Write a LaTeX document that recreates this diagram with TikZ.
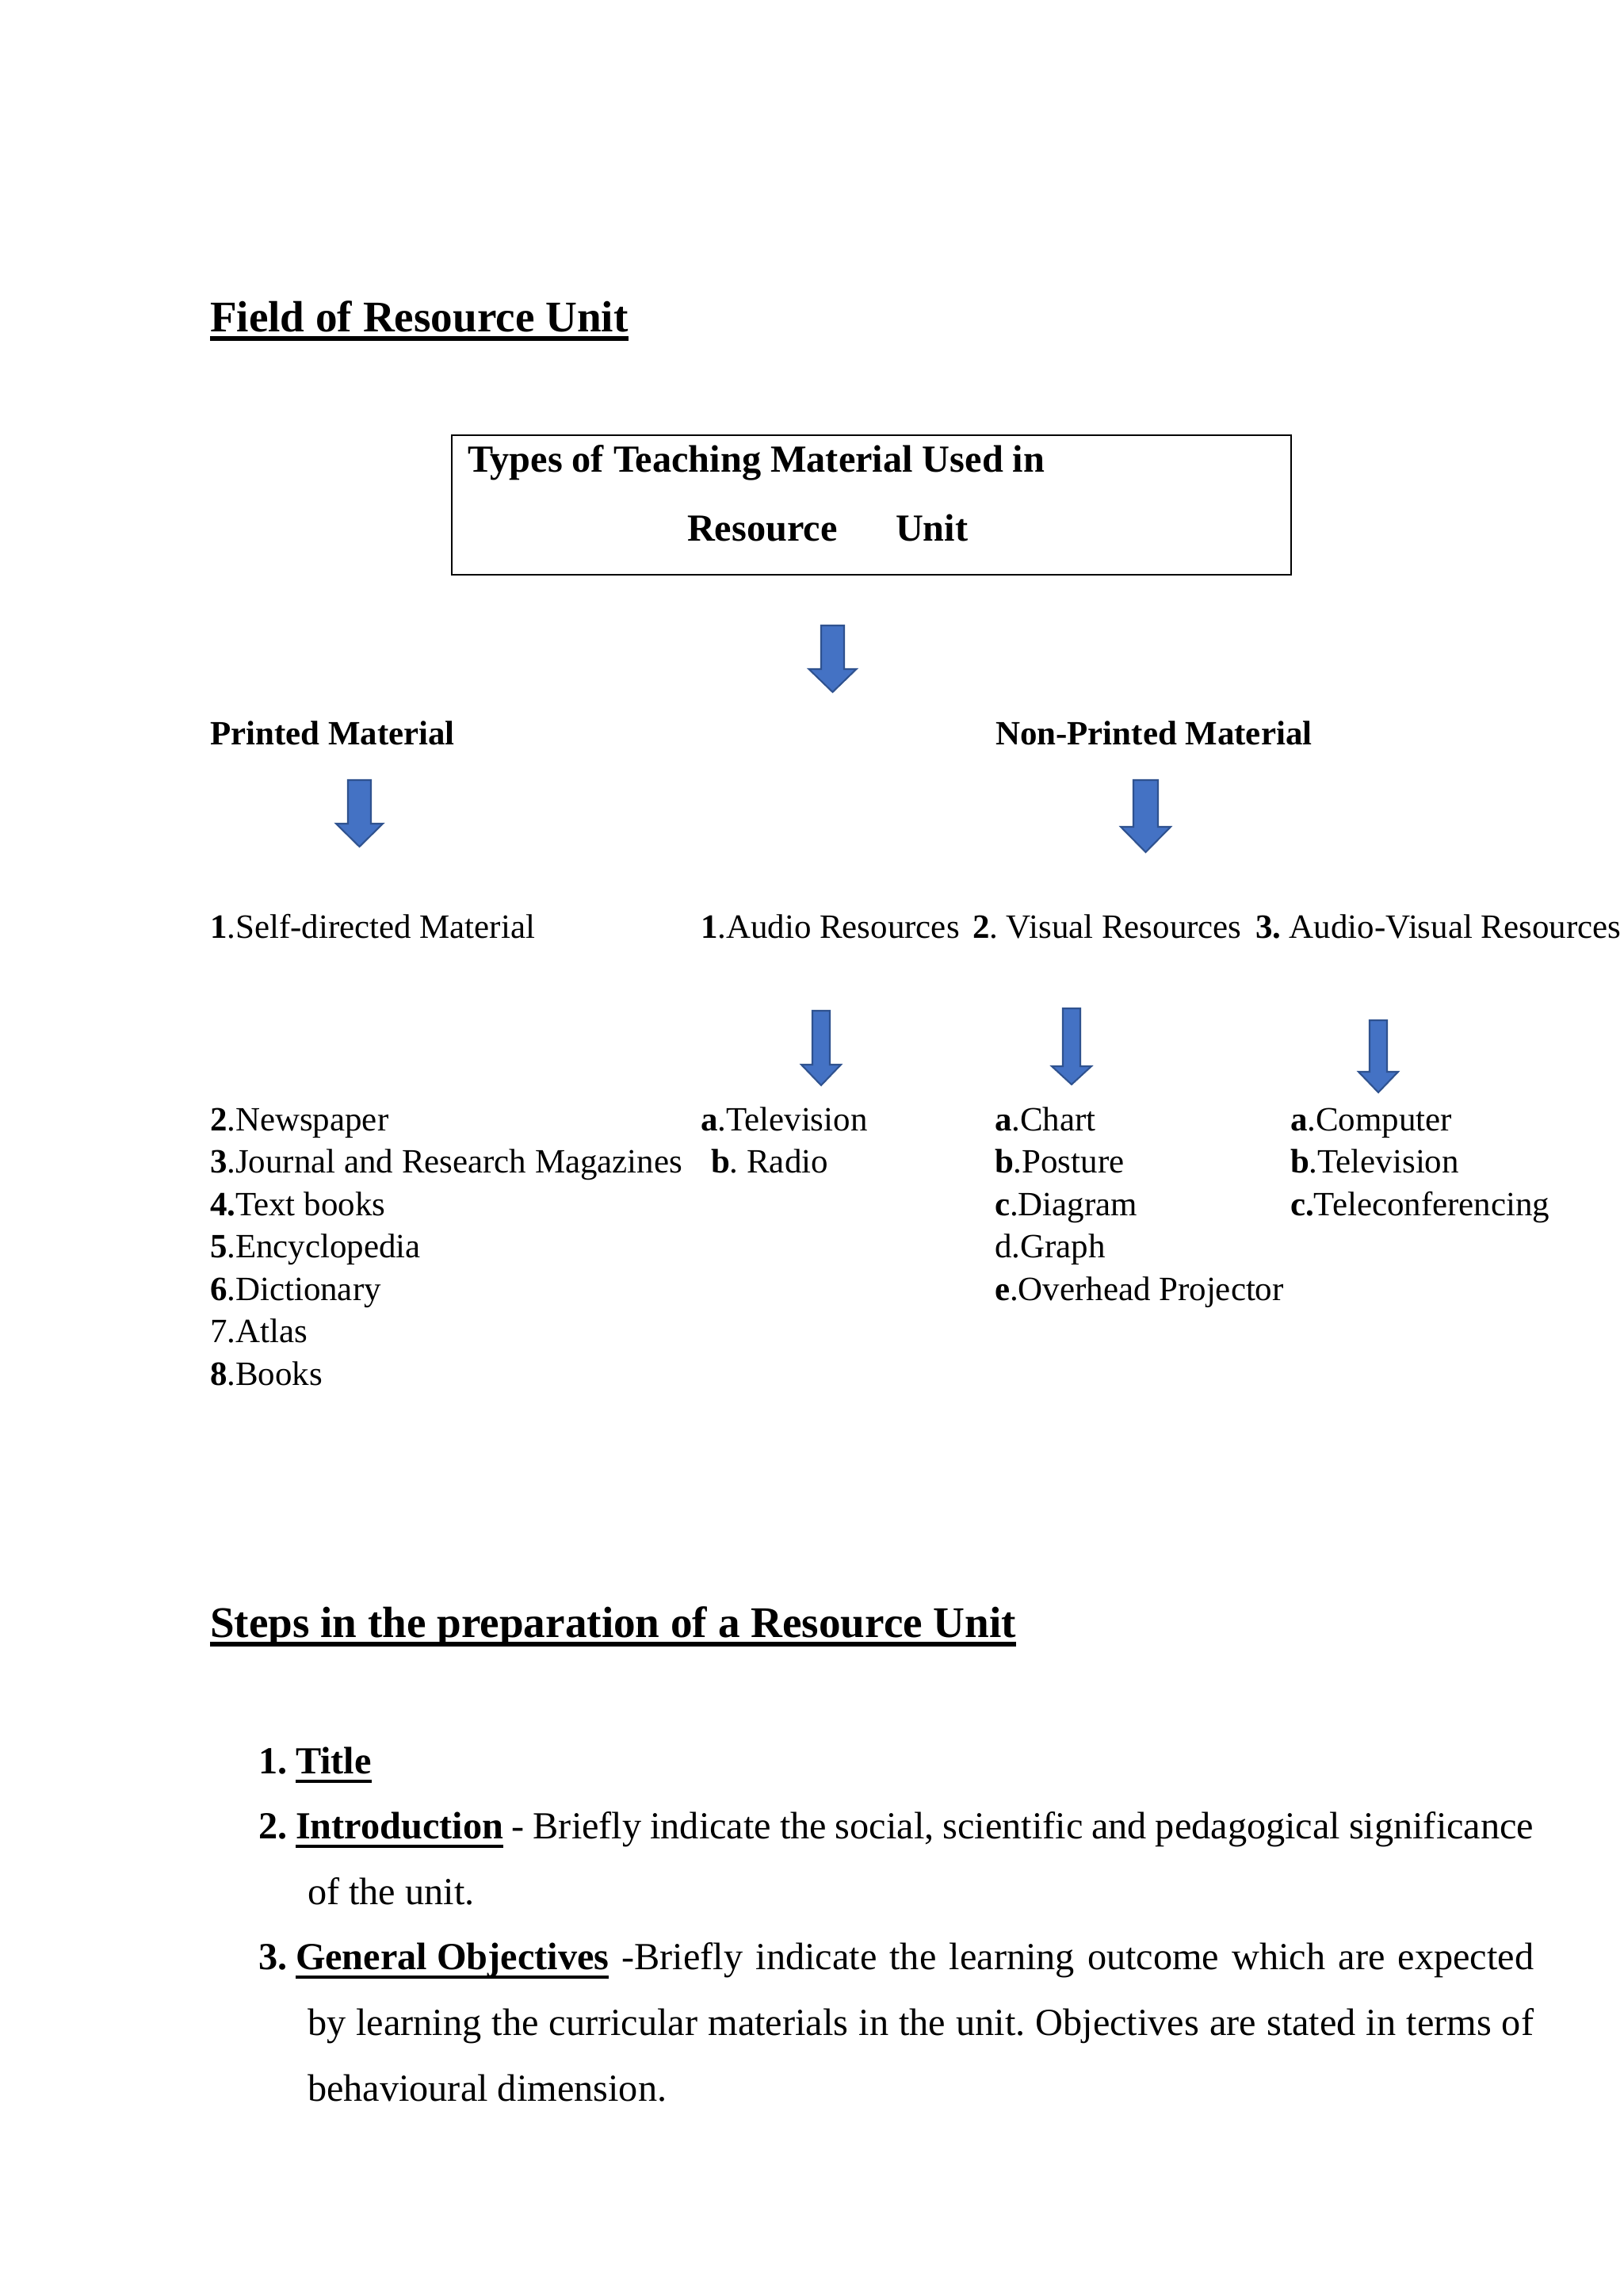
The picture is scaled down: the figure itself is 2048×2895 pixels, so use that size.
\documentclass[tikz,border=0pt]{standalone}
\usepackage{fontspec}
\setmainfont{Liberation Serif}
\frenchspacing
\definecolor{arrowfill}{HTML}{4472C4}
\definecolor{arrowline}{HTML}{2F528F}
% underline helper: #1 text, #2 raise (negative), #3 thickness
\newcommand\ulbox[3]{\setbox0\hbox{#1}\rlap{\rule[#2]{\wd0}{#3}}\box0\relax}
\newcommand\headul[1]{\ulbox{#1}{-3.36bp}{1.5bp}}
\newcommand\itemul[1]{\ulbox{#1}{-3.4bp}{1bp}}
% block arrow: cx, top, head start, tip, shaft half width, head half width
\newcommand\blockarrow[6]{%
  \fill[arrowfill, draw=arrowline, line width=0.6bp, line join=miter]
    (#1-#5,#2) -- (#1+#5,#2) -- (#1+#5,#3) -- (#1+#6,#3) -- (#1,#4)
    -- (#1-#6,#3) -- (#1-#5,#3) -- cycle;}
\begin{document}
\begin{tikzpicture}[x=0.29bp, y=-0.29bp,
  txt/.style={anchor=base west, inner sep=0, outer sep=0, font=\fontsize{12.45bp}{15bp}\selectfont},
  txtb/.style={txt, font=\fontsize{12.45bp}{15bp}\selectfont\bfseries},
  head/.style={anchor=base west, inner sep=0, outer sep=0, font=\fontsize{16bp}{19bp}\selectfont\bfseries},
  big/.style={anchor=base west, inner sep=0, outer sep=0, font=\fontsize{14bp}{17bp}\selectfont},
  bigb/.style={big, font=\fontsize{14bp}{17bp}\selectfont\bfseries},
  boxstyle/.style={draw=black, line width=0.6bp, inner sep=0, minimum width=307.1bp, minimum height=51.04bp}
]
\useasboundingbox[fill=white] (0,0) rectangle (2048,2895);

% ---- heading 1
\node[head] (h1) at (265,418) {\headul{Field of Resource Unit}};

% ---- top box
\node[boxstyle] (box) at (1099.5,637) {};
\node[bigb] (boxt1) at (590,595) {Types of Teaching Material Used in};
\node[bigb] (boxt2) at (867,682) {Resource};
\node[bigb] (boxt3) at (1130,682) {Unit};

\blockarrow{1050.5}{789}{844}{873}{14.5}{30}

% ---- printed / non printed
\node[txtb] (pm) at (265,939) {Printed Material};
\node[txtb] (npm) at (1256,939) {Non-Printed Material};

\blockarrow{453.5}{984}{1039}{1068}{14.5}{29.5}
\blockarrow{1445.5}{984}{1043}{1075}{15.5}{31.5}

% ---- row of categories
\node[txt] (sd) at (265,1183) {\textbf{1}.Self-directed Material};
\node[txt] (ar) at (884,1183) {\textbf{1}.Audio Resources};
\node[txt] (vr) at (1227,1183) {\textbf{2}. Visual Resources};
\node[txt] (avr) at (1584,1183) {\textbf{3.} Audio-Visual Resources};

\blockarrow{1036}{1275}{1343}{1369}{11}{25}
\blockarrow{1352}{1272}{1345}{1368}{11}{25}
\blockarrow{1739}{1287}{1352}{1378}{11}{25}

% ---- printed list
\node[txt] (p2) at (265,1426) {\textbf{2}.Newspaper};
\node[txt] (p3) at (265,1479.5) {\textbf{3}.Journal and Research Magazines};
\node[txt] (p4) at (265,1533) {\textbf{4.}Text books};
\node[txt] (p5) at (265,1586.5) {\textbf{5}.Encyclopedia};
\node[txt] (p6) at (265,1640) {\textbf{6}.Dictionary};
\node[txt] (p7) at (265,1693.5) {7.Atlas};
\node[txt] (p8) at (265,1747) {\textbf{8}.Books};

% ---- audio list
\node[txt] (a1) at (884,1426) {\textbf{a}.Television};
\node[txt] (a2) at (897,1479.5) {\textbf{b}. Radio};

% ---- visual list
\node[txt] (v1) at (1255,1426) {\textbf{a}.Chart};
\node[txt] (v2) at (1255,1479.5) {\textbf{b}.Posture};
\node[txt] (v3) at (1255,1533) {\textbf{c}.Diagram};
\node[txt] (v4) at (1255,1586.5) {d.Graph};
\node[txt] (v5) at (1255,1640) {\textbf{e}.Overhead Projector};

% ---- audio-visual list
\node[txt] (av1) at (1628,1426) {\textbf{a}.Computer};
\node[txt] (av2) at (1628,1479.5) {\textbf{b}.Television};
\node[txt] (av3) at (1628,1533) {\textbf{c.}Teleconferencing};

% ---- heading 2
\node[head] (h2) at (265,2065) {\headul{Steps in the preparation of a Resource Unit}};

% ---- steps
\node[bigb] (n1) at (326,2237) {1.};
\node[bigb] (s1) at (373,2237) {\itemul{Title}};

\node[bigb] (n2) at (326,2319) {2.};
\node[big] (s2a) at (373,2319) {\hbox to 453bp{\itemul{\textbf{Introduction}} - Briefly indicate the social, scientific and pedagogical significance}};
\node[big] (s2b) at (388,2402) {of the unit.};

\node[bigb] (n3) at (326,2484) {3.};
\node[big] (s3a) at (373,2484) {\hbox to 453bp{\itemul{\textbf{General Objectives}} -Briefly indicate the learning outcome which are expected}};
\node[big] (s3b) at (388,2567) {\hbox to 448.6bp{by learning the curricular materials in the unit. Objectives are stated in terms of}};
\node[big] (s3c) at (388,2650) {behavioural dimension.};
\end{tikzpicture}
\end{document}
